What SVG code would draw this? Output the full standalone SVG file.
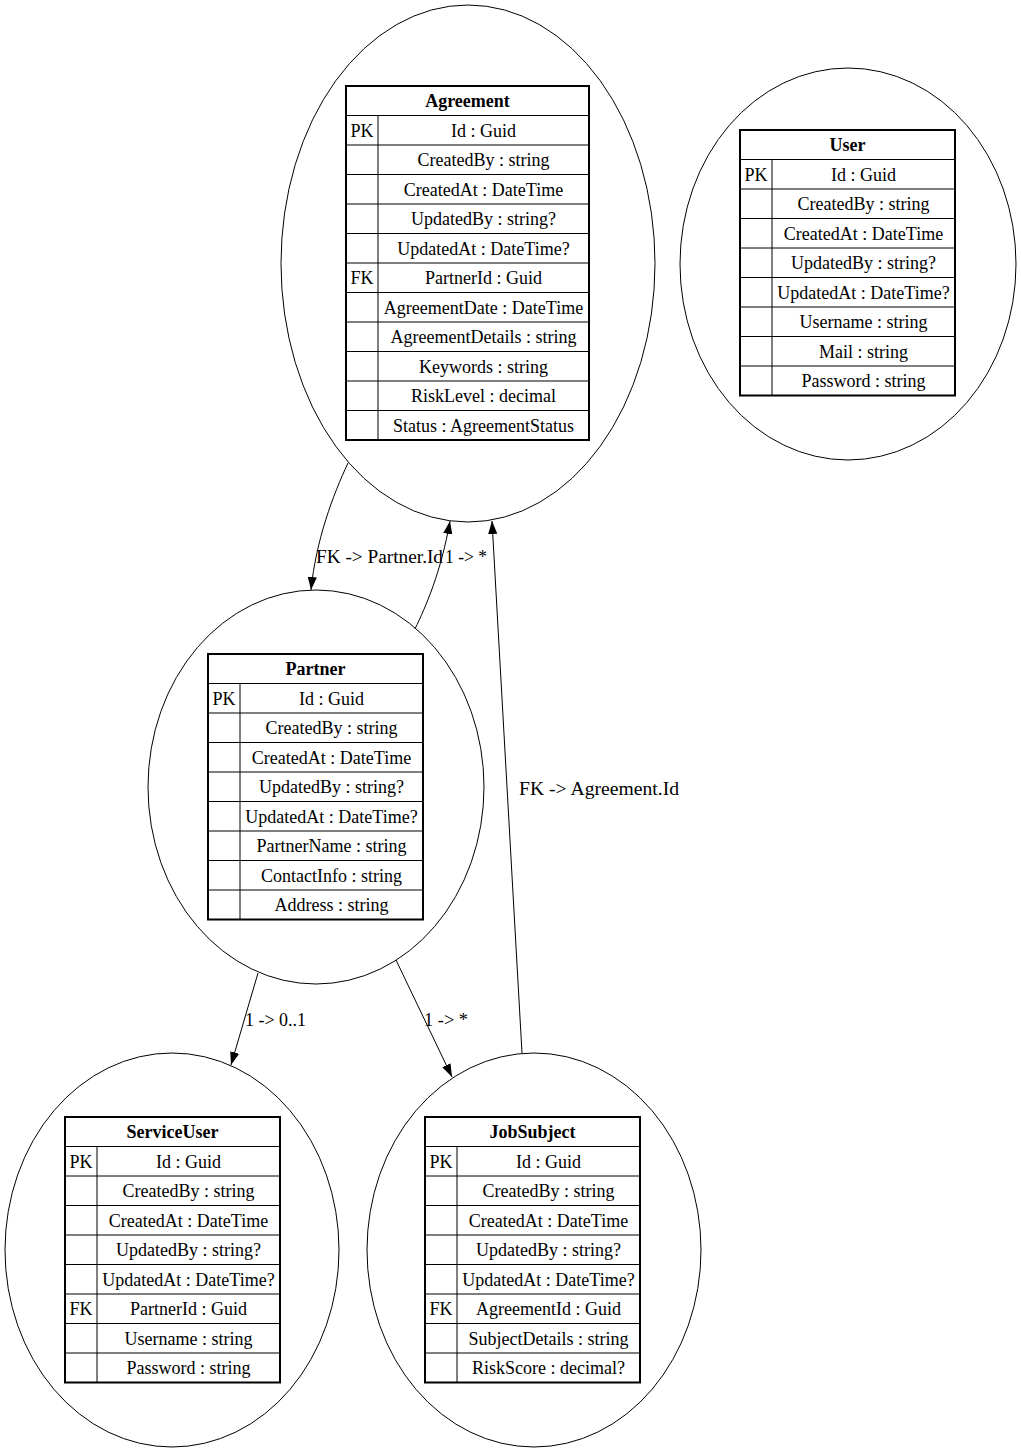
<svg xmlns="http://www.w3.org/2000/svg" width="1021" height="1452" viewBox="0 0 1021 1452">
<style>
text{font-family:"Liberation Serif","Times New Roman",serif;font-size:18px;fill:#000;text-anchor:middle}
.h{font-weight:bold}
.el{fill:none;stroke:#000;stroke-width:1}
.tb{fill:none;stroke:#000;stroke-width:2}
.ln{stroke:#000;stroke-width:1;fill:none}
.e{fill:none;stroke:#000;stroke-width:1}
</style>
<defs>
<marker id="ah" markerUnits="userSpaceOnUse" markerWidth="14" markerHeight="11" refX="13" refY="4.6" orient="auto">
<path d="M0,0 L13,4.6 L0,9.2 z" fill="#000"/>
</marker>
</defs>
<rect width="1021" height="1452" fill="#fff"/>

<g id="edges">
<path class="e" d="M348,463 C333,495 316,540 311,590" marker-end="url(#ah)"/>
<text x="379.5" y="563" textLength="127" lengthAdjust="spacingAndGlyphs">FK -&gt; Partner.Id</text>
<path class="e" d="M415,629 C426,606 441,572 450,521" marker-end="url(#ah)"/>
<text x="466" y="563" textLength="42" lengthAdjust="spacingAndGlyphs">1 -&gt; *</text>
<path class="e" d="M522,1053 L492,521" marker-end="url(#ah)"/>
<text x="599" y="795" textLength="160" lengthAdjust="spacingAndGlyphs">FK -&gt; Agreement.Id</text>
<path class="e" d="M258,973 L231,1065" marker-end="url(#ah)"/>
<text x="275.5" y="1026" textLength="61" lengthAdjust="spacingAndGlyphs">1 -&gt; 0..1</text>
<path class="e" d="M396,960 L452,1077" marker-end="url(#ah)"/>
<text x="446" y="1026" textLength="44" lengthAdjust="spacingAndGlyphs">1 -&gt; *</text>
</g>

<g id="Agreement">
<ellipse class="el" cx="468" cy="263.5" rx="187" ry="258.5"/>
<g transform="translate(346,86)">
<rect class="tb" x="0" y="0" width="243" height="354"/>
<path class="ln" d="M0,29.5H243M0,59H243M0,88.5H243M0,118H243M0,147.5H243M0,177H243M0,206.5H243M0,236H243M0,265.5H243M0,295H243M0,324.5H243M32,29.5V354"/>
<text class="h" x="121.5" y="21.25">Agreement</text>
<text x="16" y="50.75">PK</text><text x="137.5" y="50.75">Id : Guid</text>
<text x="137.5" y="80.25">CreatedBy : string</text>
<text x="137.5" y="109.75">CreatedAt : DateTime</text>
<text x="137.5" y="139.25">UpdatedBy : string?</text>
<text x="137.5" y="168.75">UpdatedAt : DateTime?</text>
<text x="16" y="198.25">FK</text><text x="137.5" y="198.25">PartnerId : Guid</text>
<text x="137.5" y="227.75">AgreementDate : DateTime</text>
<text x="137.5" y="257.25">AgreementDetails : string</text>
<text x="137.5" y="286.75">Keywords : string</text>
<text x="137.5" y="316.25">RiskLevel : decimal</text>
<text x="137.5" y="345.75">Status : AgreementStatus</text>
</g>
</g>

<g id="User">
<ellipse class="el" cx="848" cy="264" rx="168" ry="196"/>
<g transform="translate(740,130)">
<rect class="tb" x="0" y="0" width="215" height="265.5"/>
<path class="ln" d="M0,29.5H215M0,59H215M0,88.5H215M0,118H215M0,147.5H215M0,177H215M0,206.5H215M0,236H215M32,29.5V265.5"/>
<text class="h" x="107.5" y="21.25">User</text>
<text x="16" y="50.75">PK</text><text x="123.5" y="50.75">Id : Guid</text>
<text x="123.5" y="80.25">CreatedBy : string</text>
<text x="123.5" y="109.75">CreatedAt : DateTime</text>
<text x="123.5" y="139.25">UpdatedBy : string?</text>
<text x="123.5" y="168.75">UpdatedAt : DateTime?</text>
<text x="123.5" y="198.25">Username : string</text>
<text x="123.5" y="227.75">Mail : string</text>
<text x="123.5" y="257.25">Password : string</text>
</g>
</g>

<g id="Partner">
<ellipse class="el" cx="316" cy="787" rx="168" ry="197"/>
<g transform="translate(208,654)">
<rect class="tb" x="0" y="0" width="215" height="265.5"/>
<path class="ln" d="M0,29.5H215M0,59H215M0,88.5H215M0,118H215M0,147.5H215M0,177H215M0,206.5H215M0,236H215M32,29.5V265.5"/>
<text class="h" x="107.5" y="21.25">Partner</text>
<text x="16" y="50.75">PK</text><text x="123.5" y="50.75">Id : Guid</text>
<text x="123.5" y="80.25">CreatedBy : string</text>
<text x="123.5" y="109.75">CreatedAt : DateTime</text>
<text x="123.5" y="139.25">UpdatedBy : string?</text>
<text x="123.5" y="168.75">UpdatedAt : DateTime?</text>
<text x="123.5" y="198.25">PartnerName : string</text>
<text x="123.5" y="227.75">ContactInfo : string</text>
<text x="123.5" y="257.25">Address : string</text>
</g>
</g>

<g id="ServiceUser">
<ellipse class="el" cx="172" cy="1250" rx="167" ry="197"/>
<g transform="translate(65,1117)">
<rect class="tb" x="0" y="0" width="215" height="265.5"/>
<path class="ln" d="M0,29.5H215M0,59H215M0,88.5H215M0,118H215M0,147.5H215M0,177H215M0,206.5H215M0,236H215M32,29.5V265.5"/>
<text class="h" x="107.5" y="21.25">ServiceUser</text>
<text x="16" y="50.75">PK</text><text x="123.5" y="50.75">Id : Guid</text>
<text x="123.5" y="80.25">CreatedBy : string</text>
<text x="123.5" y="109.75">CreatedAt : DateTime</text>
<text x="123.5" y="139.25">UpdatedBy : string?</text>
<text x="123.5" y="168.75">UpdatedAt : DateTime?</text>
<text x="16" y="198.25">FK</text><text x="123.5" y="198.25">PartnerId : Guid</text>
<text x="123.5" y="227.75">Username : string</text>
<text x="123.5" y="257.25">Password : string</text>
</g>
</g>

<g id="JobSubject">
<ellipse class="el" cx="534" cy="1250" rx="167" ry="197"/>
<g transform="translate(425,1117)">
<rect class="tb" x="0" y="0" width="215" height="265.5"/>
<path class="ln" d="M0,29.5H215M0,59H215M0,88.5H215M0,118H215M0,147.5H215M0,177H215M0,206.5H215M0,236H215M32,29.5V265.5"/>
<text class="h" x="107.5" y="21.25">JobSubject</text>
<text x="16" y="50.75">PK</text><text x="123.5" y="50.75">Id : Guid</text>
<text x="123.5" y="80.25">CreatedBy : string</text>
<text x="123.5" y="109.75">CreatedAt : DateTime</text>
<text x="123.5" y="139.25">UpdatedBy : string?</text>
<text x="123.5" y="168.75">UpdatedAt : DateTime?</text>
<text x="16" y="198.25">FK</text><text x="123.5" y="198.25">AgreementId : Guid</text>
<text x="123.5" y="227.75">SubjectDetails : string</text>
<text x="123.5" y="257.25">RiskScore : decimal?</text>
</g>
</g>
</svg>
